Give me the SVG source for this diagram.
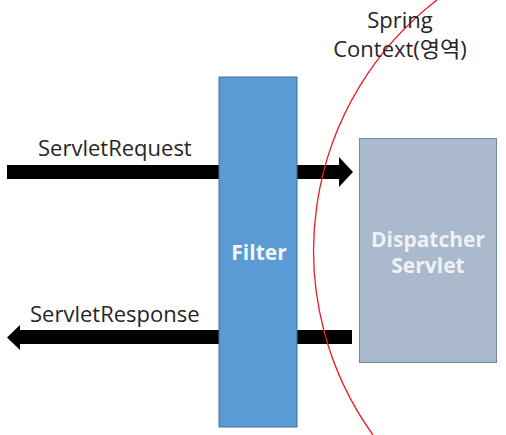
<svg xmlns="http://www.w3.org/2000/svg" width="506" height="435" viewBox="0 0 506 435">
<style>
.lbl{font-family:"Open Sans","Noto Sans","Noto Sans CJK KR",sans-serif;font-size:22px;fill:#262626}
.box-t{font-family:"Open Sans","Noto Sans",sans-serif;font-weight:bold;font-size:21px;text-anchor:middle}
.arrow{fill:#000000}
</style>
<rect width="506" height="435" fill="#ffffff"/>
<g id="connectors">
<polygon class="arrow" points="7,165 339,165 339,157 353,172 339,187 339,179 7,179"/>
<polygon class="arrow" points="352,330 20,330 20,325 7,337.5 20,350 20,344 352,344"/>
</g>
<g id="filter">
<rect x="219" y="77" width="78" height="350" fill="#5b9bd5" stroke="#41719c" stroke-width="1"/>
<text class="box-t" x="259" y="260" fill="#f2f6fb">Filter</text>
</g>
<g id="dispatcher">
<rect x="359.5" y="138.5" width="137" height="224" fill="#aab9cb" stroke="#6f88a4" stroke-width="1"/>
<text class="box-t" x="428" y="247" fill="#eef1f5">Dispatcher</text>
<text class="box-t" x="428" y="273" fill="#eef1f5">Servlet</text>
</g>
<g id="context">
<path d="M437,0 A316,316 0 0 0 373,435" fill="none" stroke="#ee1c25" stroke-width="1.3"/>
<text class="lbl" x="400" y="28" text-anchor="middle">Spring</text>
<text class="lbl" x="400" y="57" text-anchor="middle">Context(영역)</text>
</g>
<text class="lbl" x="38" y="156">ServletRequest</text>
<text class="lbl" x="30" y="322">ServletResponse</text>
</svg>
